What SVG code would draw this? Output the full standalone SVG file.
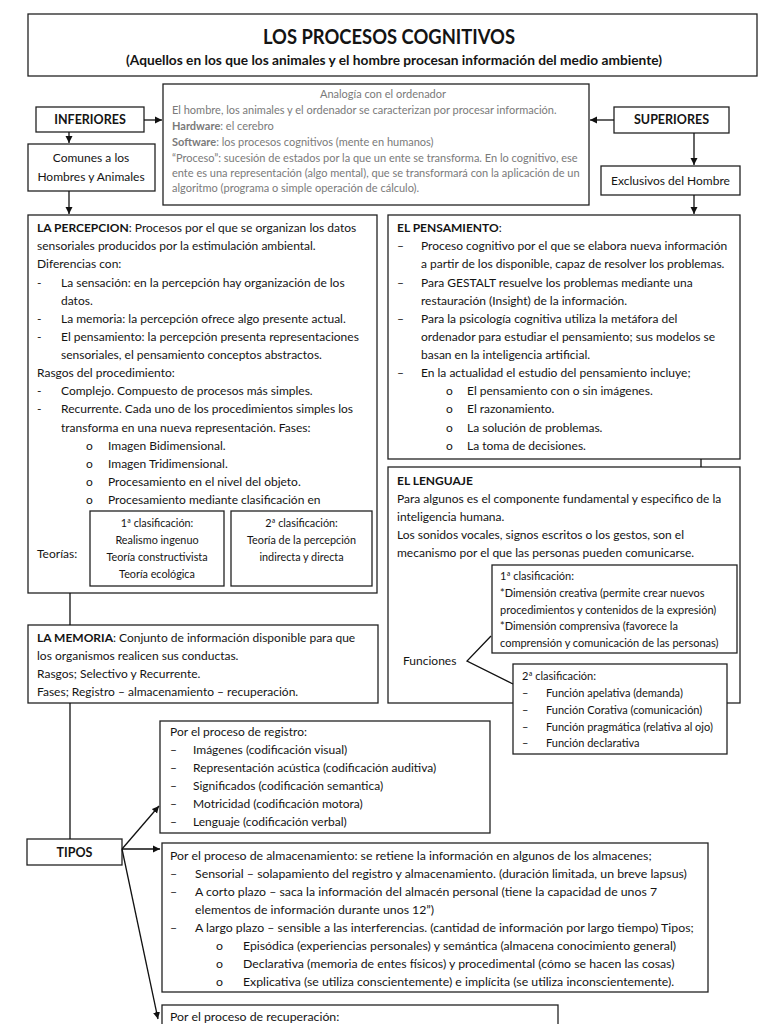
<svg xmlns="http://www.w3.org/2000/svg" width="768" height="1024" viewBox="0 0 768 1024">
<defs>
<marker id="ah" markerWidth="8" markerHeight="8" refX="7" refY="4" orient="auto" markerUnits="userSpaceOnUse">
<path d="M0,0.5 L7,4 L0,7.5 Z" fill="#111"/>
</marker>
<style>
.box{fill:#fff;stroke:#222;stroke-width:1.3}
.t{font-family:Lato,"Liberation Sans",sans-serif;font-size:12px;fill:#141414}
.s{font-size:10.8px}
.l{font-size:11px}
.g{font-size:11px;fill:#7a7a7a}
.n{font-size:12.3px}
.b{font-weight:bold}
.m{text-anchor:middle}
.c{fill:none;stroke:#111;stroke-width:1.3}
</style>
</defs>
<rect width="768" height="1024" fill="#fff"/>

<g id="title">
<rect class="box" x="28" y="14" width="729" height="62"/>
<text class="t b m" x="389" y="44" style="font-size:21.5px" textLength="252" lengthAdjust="spacingAndGlyphs">LOS PROCESOS COGNITIVOS</text>
<text class="t b m" x="394" y="65" style="font-size:13.6px" textLength="536" lengthAdjust="spacingAndGlyphs">(Aquellos en los que los animales y el hombre procesan información del medio ambiente)</text>
</g>

<g id="inferiores">
<rect class="box" x="36" y="107" width="108" height="25"/>
<text class="t b m" x="90" y="124" style="font-size:12.5px">INFERIORES</text>
</g>

<g id="analogia">
<rect class="box" x="163" y="84" width="426" height="121"/>
<text class="t g m" x="383" y="98">Analogía con el ordenador</text>
<text class="t g" x="172" y="114">El hombre, los animales y el ordenador se caracterizan por procesar información.</text>
<text class="t g" x="172" y="130"><tspan class="b">Hardware</tspan>: el cerebro</text>
<text class="t g" x="172" y="146"><tspan class="b">Software</tspan>: los procesos cognitivos (mente en humanos)</text>
<text class="t g" x="172" y="162">“Proceso”: sucesión de estados por la que un ente se transforma. En lo cognitivo, ese</text>
<text class="t g" x="172" y="177">ente es una representación (algo mental), que se transformará con la aplicación de un</text>
<text class="t g" x="172" y="192">algoritmo (programa o simple operación de cálculo).</text>
</g>

<g id="superiores">
<rect class="box" x="614" y="107" width="115" height="26"/>
<text class="t b m" x="671.5" y="124" style="font-size:12.5px">SUPERIORES</text>
</g>

<g id="comunes">
<rect class="box" x="28" y="144" width="127" height="47"/>
<text class="t m" x="91" y="162">Comunes a los</text>
<text class="t m" x="91" y="181">Hombres y Animales</text>
</g>

<g id="exclusivos">
<rect class="box" x="601" y="166" width="139" height="29"/>
<text class="t m" x="670.5" y="185">Exclusivos del Hombre</text>
</g>

<g id="percepcion">
<rect class="box" x="28" y="215" width="349" height="378"/>
<text class="t" x="37" y="232"><tspan class="b">LA PERCEPCION</tspan>: Procesos por el que se organizan los datos</text>
<text class="t" x="37" y="250">sensoriales producidos por la estimulación ambiental.</text>
<text class="t" x="37" y="268">Diferencias con:</text>
<text class="t" x="37" y="287">-</text><text class="t" x="61" y="287">La sensación: en la percepción hay organización de los</text>
<text class="t" x="61" y="305">datos.</text>
<text class="t" x="37" y="323">-</text><text class="t" x="61" y="323">La memoria: la percepción ofrece algo presente actual.</text>
<text class="t" x="37" y="341">-</text><text class="t" x="61" y="341">El pensamiento: la percepción presenta representaciones</text>
<text class="t" x="61" y="359">sensoriales, el pensamiento conceptos abstractos.</text>
<text class="t" x="37" y="377">Rasgos del procedimiento:</text>
<text class="t" x="37" y="395">-</text><text class="t" x="61" y="395">Complejo. Compuesto de procesos más simples.</text>
<text class="t" x="37" y="413">-</text><text class="t" x="61" y="413">Recurrente. Cada uno de los procedimientos simples los</text>
<text class="t" x="61" y="432">transforma en una nueva representación. Fases:</text>
<text class="t" x="86" y="450">o</text><text class="t" x="108" y="450">Imagen Bidimensional.</text>
<text class="t" x="86" y="468">o</text><text class="t" x="108" y="468">Imagen Tridimensional.</text>
<text class="t" x="86" y="486">o</text><text class="t" x="108" y="486">Procesamiento en el nivel del objeto.</text>
<text class="t" x="86" y="504">o</text><text class="t" x="108" y="504">Procesamiento mediante clasificación en</text>
<text class="t" x="37" y="558">Teorías:</text>
</g>

<g id="clasif-p1">
<rect class="box" x="90" y="511" width="134" height="75"/>
<text class="t s m" x="157" y="527">1ª clasificación:</text>
<text class="t s m" x="157" y="544">Realismo ingenuo</text>
<text class="t s m" x="157" y="561">Teoría constructivista</text>
<text class="t s m" x="157" y="578">Teoría ecológica</text>
</g>

<g id="clasif-p2">
<rect class="box" x="231" y="511" width="141" height="75"/>
<text class="t s m" x="301.5" y="527">2ª clasificación:</text>
<text class="t s m" x="301.5" y="544">Teoría de la percepción</text>
<text class="t s m" x="301.5" y="561">indirecta y directa</text>
</g>

<g id="memoria">
<rect class="box" x="28" y="625" width="350" height="78"/>
<text class="t" x="37" y="642"><tspan class="b">LA MEMORIA</tspan>: Conjunto de información disponible para que</text>
<text class="t" x="37" y="660">los organismos realicen sus conductas.</text>
<text class="t" x="37" y="678">Rasgos; Selectivo y Recurrente.</text>
<text class="t" x="37" y="696">Fases; Registro – almacenamiento – recuperación.</text>
</g>

<g id="pensamiento">
<rect class="box" x="388" y="215" width="352" height="244"/>
<text class="t b" x="397" y="232">EL PENSAMIENTO<tspan style="font-weight:normal">:</tspan></text>
<text class="t" x="397" y="250">–</text><text class="t" x="421" y="250">Proceso cognitivo por el que se elabora nueva información</text>
<text class="t" x="421" y="268">a partir de los disponible, capaz de resolver los problemas.</text>
<text class="t" x="397" y="287">–</text><text class="t" x="421" y="287">Para GESTALT resuelve los problemas mediante una</text>
<text class="t" x="421" y="305">restauración (Insight) de la información.</text>
<text class="t" x="397" y="323">–</text><text class="t" x="421" y="323">Para la psicología cognitiva utiliza la metáfora del</text>
<text class="t" x="421" y="341">ordenador para estudiar el pensamiento; sus modelos se</text>
<text class="t" x="421" y="359">basan en la inteligencia artificial.</text>
<text class="t" x="397" y="377">–</text><text class="t" x="421" y="377">En la actualidad el estudio del pensamiento incluye;</text>
<text class="t" x="446" y="395">o</text><text class="t" x="467" y="395">El pensamiento con o sin imágenes.</text>
<text class="t" x="446" y="413">o</text><text class="t" x="467" y="413">El razonamiento.</text>
<text class="t" x="446" y="432">o</text><text class="t" x="467" y="432">La solución de problemas.</text>
<text class="t" x="446" y="450">o</text><text class="t" x="467" y="450">La toma de decisiones.</text>
</g>

<g id="lenguaje">
<rect class="box" x="388" y="467" width="352" height="236"/>
<text class="t b" x="397" y="485">EL LENGUAJE</text>
<text class="t" x="397" y="503">Para algunos es el componente fundamental y especifico de la</text>
<text class="t" x="397" y="521">inteligencia humana.</text>
<text class="t" x="397" y="539">Los sonidos vocales, signos escritos o los gestos, son el</text>
<text class="t" x="397" y="557">mecanismo por el que las personas pueden comunicarse.</text>
<text class="t" x="403" y="665">Funciones</text>
</g>

<g id="clasif-l1">
<rect class="box" x="492" y="565" width="245" height="88"/>
<text class="t l" x="500" y="580">1ª clasificación:</text>
<text class="t l" x="500" y="597">*Dimensión creativa (permite crear nuevos</text>
<text class="t l" x="500" y="614">procedimientos y contenidos de la expresión)</text>
<text class="t l" x="500" y="630">*Dimensión comprensiva (favorece la</text>
<text class="t l" x="500" y="647">comprensión y comunicación de las personas)</text>
</g>

<g id="clasif-l2">
<rect class="box" x="513" y="664" width="214" height="90"/>
<text class="t l" x="522" y="680">2ª clasificación:</text>
<text class="t l" x="522" y="697">–</text><text class="t l" x="546" y="697">Función apelativa (demanda)</text>
<text class="t l" x="522" y="714">–</text><text class="t l" x="546" y="714">Función Corativa (comunicación)</text>
<text class="t l" x="522" y="731">–</text><text class="t l" x="546" y="731">Función pragmática (relativa al ojo)</text>
<text class="t l" x="522" y="747">–</text><text class="t l" x="546" y="747">Función declarativa</text>
</g>

<g id="tipos">
<rect class="box" x="27" y="839" width="95" height="26"/>
<text class="t b m" x="74.5" y="857" style="font-size:12.5px">TIPOS</text>
</g>

<g id="registro">
<rect class="box" x="160" y="721" width="330" height="112"/>
<text class="t" x="170" y="736">Por el proceso de registro:</text>
<text class="t" x="170" y="754">–</text><text class="t" x="193" y="754">Imágenes (codificación visual)</text>
<text class="t" x="170" y="772">–</text><text class="t" x="193" y="772">Representación acústica (codificación auditiva)</text>
<text class="t" x="170" y="790">–</text><text class="t" x="193" y="790">Significados (codificación semantica)</text>
<text class="t" x="170" y="808">–</text><text class="t" x="193" y="808">Motricidad (codificación motora)</text>
<text class="t" x="170" y="826">–</text><text class="t" x="193" y="826">Lenguaje (codificación verbal)</text>
</g>

<g id="almacenamiento">
<rect class="box" x="162" y="843" width="546" height="149"/>
<text class="t n" x="170" y="860">Por el proceso de almacenamiento: se retiene la información en algunos de los almacenes;</text>
<text class="t n" x="170" y="878">–</text><text class="t n" x="195" y="878">Sensorial – solapamiento del registro y almacenamiento. (duración limitada, un breve lapsus)</text>
<text class="t n" x="170" y="896">–</text><text class="t n" x="195" y="896">A corto plazo – saca la información del almacén personal (tiene la capacidad de unos 7</text>
<text class="t n" x="195" y="914">elementos de información durante unos 12”)</text>
<text class="t n" x="170" y="932">–</text><text class="t n" x="195" y="932">A largo plazo – sensible a las interferencias. (cantidad de información por largo tiempo) Tipos;</text>
<text class="t n" x="216" y="950">o</text><text class="t n" x="243" y="950">Episódica (experiencias personales) y semántica (almacena conocimiento general)</text>
<text class="t n" x="216" y="968">o</text><text class="t n" x="243" y="968">Declarativa (memoria de entes físicos) y procedimental (cómo se hacen las cosas)</text>
<text class="t n" x="216" y="986">o</text><text class="t n" x="243" y="986">Explicativa (se utiliza conscientemente) e implícita (se utiliza inconscientemente).</text>
</g>

<g id="recuperacion">
<rect class="box" x="162" y="1005" width="396" height="30"/>
<text class="t n" x="170" y="1021">Por el proceso de recuperación:</text>
</g>

<g id="connectors">
<line class="c" x1="144" y1="120" x2="162" y2="120" marker-end="url(#ah)"/>
<line class="c" x1="614" y1="120" x2="590" y2="120" marker-end="url(#ah)"/>
<line class="c" x1="69" y1="132" x2="69" y2="143" marker-end="url(#ah)"/>
<line class="c" x1="69" y1="191" x2="69" y2="214" marker-end="url(#ah)"/>
<line class="c" x1="694" y1="133" x2="694" y2="165" marker-end="url(#ah)"/>
<line class="c" x1="694" y1="195" x2="694" y2="214" marker-end="url(#ah)"/>
<line class="c" x1="70" y1="593" x2="70" y2="625"/>
<line class="c" x1="70" y1="703" x2="70" y2="839"/>
<line class="c" x1="701" y1="459" x2="701" y2="467"/>
<line class="c" x1="122" y1="849" x2="159" y2="806" marker-end="url(#ah)"/>
<line class="c" x1="122" y1="849" x2="160" y2="849" marker-end="url(#ah)"/>
<line class="c" x1="122" y1="849" x2="158" y2="1019" marker-end="url(#ah)"/>
<polyline class="c" points="491,636 467,661 513,684"/>
</g>
</svg>
